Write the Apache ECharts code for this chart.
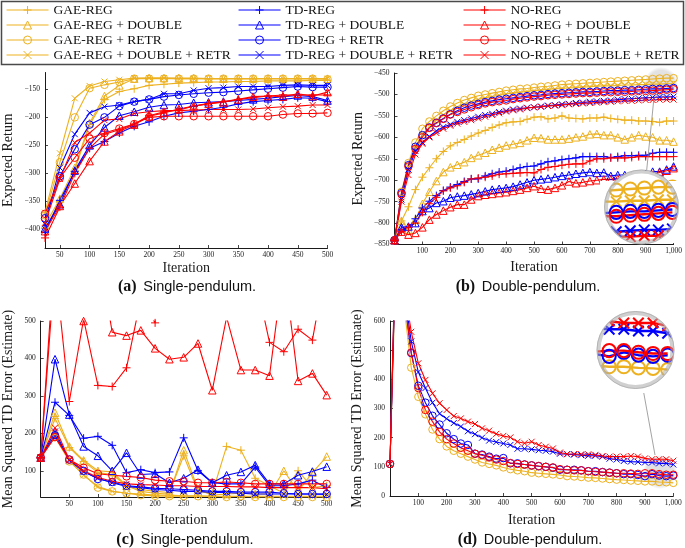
<!DOCTYPE html>
<html lang="en">
<head>
<meta charset="utf-8">
<title>Pendulum: expected return and TD error</title>
<script src="https://cdn.jsdelivr.net/npm/echarts@6/dist/echarts.min.js"></script>
<style>
  html, body { margin: 0; padding: 0; background: #fff; }
  #chart { width: 685px; height: 548px; }
</style>
</head>
<body>
<div id="chart"></div>
<script>
// ---- iterations ----
var itA = [25,50,75,100,125,150,175,200,225,250,275,300,325,350,375,400,425,450,475,500];
var itB = [0,25,50,75,100,125,150,175,200,225,250,275,300,325,350,375,400,425,450,475,500,
           525,550,575,600,625,650,675,700,725,750,775,800,825,850,875,900,925,950,975,1000];
var itC = [0,25,50,75,100,125,150,175,200,225,250,275,300,325,350,375,400,425,450,475,500];
var itD = itB;

// ---- (a) single pendulum, expected return ----
var gaeA    = [-398,-350,-295,-213,-168,-154,-149,-143,-141,-139,-138,-137,-137,-136,-136,-135,-135,-135,-134,-134];
var gaeDblA = [-392,-345,-290,-210,-162,-143,-131,-130,-130,-130,-130,-131,-131,-131,-131,-131,-131,-131,-131,-131];
var gaeRetA = [-375,-280,-200,-148,-142,-137,-131,-131,-131,-131,-131,-131,-131,-131,-131,-131,-131,-131,-131,-132];
var gaeDRA  = [-370,-264,-166,-144,-136,-133,-130,-130,-130,-131,-131,-131,-131,-131,-131,-131,-131,-131,-131,-131];
var tdA     = [-405,-348,-297,-255,-243,-228,-216,-208,-198,-192,-189,-186,-182,-176,-172,-170,-168,-165,-166,-172];
var tdDblA  = [-398,-355,-295,-250,-218,-197,-190,-182,-178,-177,-174,-173,-172,-170,-168,-166,-163,-161,-163,-170];
var tdRetA  = [-380,-305,-257,-213,-200,-180,-172,-168,-163,-160,-158,-156,-155,-153,-151,-149,-147,-145,-146,-146];
var tdDRA   = [-390,-290,-230,-192,-181,-178,-172,-168,-158,-158,-152,-148,-147,-145,-145,-145,-143,-142,-143,-143];
var noA     = [-415,-360,-300,-255,-230,-222,-212,-197,-190,-187,-180,-175,-172,-168,-165,-162,-160,-160,-160,-160];
var noDblA  = [-403,-358,-318,-278,-243,-225,-213,-198,-192,-185,-180,-176,-173,-168,-163,-162,-163,-158,-162,-155];
var noRetA  = [-372,-308,-272,-238,-228,-220,-212,-200,-198,-198,-198,-198,-198,-198,-198,-198,-195,-193,-193,-192];
var noDRA   = [-388,-310,-245,-228,-205,-203,-193,-190,-188,-188,-187,-186,-186,-186,-185,-183,-181,-180,-178,-178];

// ---- (b) double pendulum, expected return ----
var gaeB    = [-840,-795,-762,-722,-693,-671,-650,-633,-620,-612,-605,-597,-590,-584,-577,-571,-566,-564,-563,-558,-553,
               -552,-557,-555,-550,-555,-556,-557,-555,-555,-553,-556,-558,-560,-560,-562,-562,-563,-565,-562,-562];
var gaeDblB = [-840,-795,-815,-792,-755,-727,-702,-681,-670,-664,-658,-648,-642,-636,-629,-624,-619,-616,-613,-607,-601,
               -602,-605,-605,-605,-603,-600,-598,-593,-592,-595,-595,-600,-605,-600,-595,-598,-600,-607,-607,-610];
var gaeRetB = [-840,-727,-660,-612,-580,-563,-550,-538,-528,-520,-513,-508,-503,-500,-497,-494,-491,-489,-487,-486,-484,
               -482,-481,-479,-477,-476,-475,-474,-473,-472,-471,-470,-469,-468,-467,-466,-465,-464,-463,-462,-462];
var gaeDRB  = [-840,-740,-668,-625,-595,-575,-560,-548,-538,-530,-523,-517,-512,-508,-505,-502,-499,-497,-495,-493,-491,
               -490,-488,-487,-486,-485,-484,-483,-482,-481,-480,-480,-479,-478,-478,-477,-477,-476,-476,-475,-475];
var tdB     = [-840,-815,-810,-790,-765,-749,-736,-724,-716,-710,-703,-697,-697,-690,-685,-681,-679,-675,-671,-668,-667,
               -662,-657,-655,-652,-650,-648,-645,-645,-645,-645,-647,-645,-643,-643,-642,-642,-637,-635,-635,-635];
var tdDblB  = [-840,-810,-808,-800,-772,-765,-753,-749,-741,-738,-736,-733,-730,-726,-722,-720,-718,-715,-710,-705,-700,
               -698,-696,-693,-690,-688,-685,-683,-681,-683,-682,-690,-688,-688,-690,-688,-685,-680,-680,-675,-668];
var tdRetB  = [-840,-730,-665,-622,-595,-577,-566,-556,-546,-538,-531,-526,-522,-518,-515,-512,-510,-508,-506,-504,-502,
               -501,-499,-498,-497,-496,-495,-494,-494,-493,-492,-491,-491,-490,-490,-489,-488,-487,-487,-486,-485];
var tdDRB   = [-840,-745,-675,-632,-612,-598,-585,-576,-570,-564,-560,-556,-552,-548,-545,-541,-538,-535,-533,-531,-530,
               -528,-526,-525,-523,-522,-520,-519,-517,-516,-515,-514,-512,-511,-510,-509,-508,-507,-506,-506,-505];
var noB     = [-840,-820,-810,-800,-775,-755,-740,-725,-718,-713,-705,-697,-695,-693,-690,-686,-685,-684,-683,-682,-683,
               -675,-670,-668,-665,-663,-662,-662,-655,-650,-650,-648,-648,-648,-647,-645,-645,-645,-645,-645,-645];
var noDblB  = [-840,-820,-827,-823,-810,-792,-780,-771,-763,-757,-757,-745,-737,-734,-732,-730,-728,-725,-722,-718,-714,
               -720,-722,-718,-712,-703,-707,-705,-702,-700,-698,-698,-697,-695,-697,-695,-693,-687,-682,-678,-672];
var noRetB  = [-840,-733,-668,-627,-600,-578,-567,-557,-547,-541,-535,-530,-525,-521,-518,-516,-514,-511,-509,-507,-505,
               -504,-502,-501,-500,-499,-498,-497,-497,-496,-495,-495,-494,-494,-493,-492,-492,-491,-490,-489,-488];
var noDRB   = [-840,-750,-688,-640,-615,-600,-590,-580,-573,-568,-564,-560,-556,-552,-548,-544,-540,-537,-535,-532,-530,
               -529,-527,-526,-525,-523,-522,-521,-520,-519,-518,-517,-516,-515,-515,-514,-513,-513,-512,-512,-512];

// ---- (c) single pendulum, mean squared TD error ----
var gaeC    = [135,240,162,125,95,90,60,50,45,42,140,45,40,165,155,80,60,40,100,55,60];
var gaeDblC = [135,255,165,128,100,97,60,45,40,38,155,50,35,38,40,38,38,100,45,95,138];
var gaeRetC = [135,190,125,90,55,45,40,35,33,32,32,32,32,30,32,30,30,30,30,30,30];
var gaeDRC  = [135,200,128,88,58,45,40,38,35,35,33,33,32,32,32,32,32,32,32,32,32];
var tdC     = [135,283,248,187,192,168,95,103,95,97,188,100,68,65,65,110,60,60,65,75,55];
var tdDblC  = [135,398,250,165,140,100,148,90,92,68,80,103,68,88,97,115,65,65,88,98,111];
var tdRetC  = [135,195,130,100,78,70,60,57,53,52,50,48,45,45,43,43,43,40,38,38,38];
var tdDRC   = [135,205,128,97,80,68,58,55,50,48,45,45,42,42,40,38,38,38,38,38,37];
var noC     = [135,650,285,505,328,325,375,560,495,900,1200,1000,900,800,900,620,443,418,478,449,660];
var noDblC  = [135,700,900,500,700,470,461,475,427,398,403,440,315,510,369,369,354,650,340,360,302];
var noRetC  = [135,190,130,108,92,88,85,82,75,72,72,68,68,70,68,65,65,65,65,65,65];
var noDRC   = [135,215,130,100,82,72,65,63,62,60,60,58,58,58,57,57,55,55,55,55,52];

// ---- (d) double pendulum, mean squared TD error ----
var gaeRetD = [110,950,650,440,340,280,228,195,170,155,145,135,125,115,110,105,98,92,88,85,80,
               78,76,74,72,68,67,65,63,62,60,58,56,55,53,52,50,50,48,47,45];
var tdRetD  = [110,1000,680,490,378,320,275,245,215,195,180,175,145,142,135,128,130,112,112,108,105,
               102,100,97,90,90,90,88,85,85,82,80,78,75,75,72,68,75,70,68,70];
var noRetD  = [110,1020,690,492,370,295,255,220,195,180,165,155,145,140,132,125,120,113,110,108,105,
               103,100,98,92,90,88,88,85,83,82,80,78,78,77,76,78,78,75,73,73];
var tdDRD   = [110,1050,700,530,425,370,320,282,265,250,238,222,212,200,190,185,180,175,162,162,160,
               157,155,152,145,143,142,140,138,138,135,128,125,120,118,117,115,115,112,112,108];
var noDRD   = [110,1080,720,563,455,398,352,318,295,274,266,255,247,232,224,213,206,201,186,181,186,
               175,169,163,149,144,144,143,143,141,137,135,135,135,137,135,129,126,126,126,121];

// ---- tick labels ----
var ticksA_x = [50,100,150,200,250,300,350,400,450,500];
var ticksA_y = [-400,-350,-300,-250,-200,-150];
var ticksB_x = [100,200,300,400,500,600,700,800,900,1000];
var ticksB_y = [-850,-800,-750,-700,-650,-600,-550,-500,-450];
var ticksC_x = [50,100,150,200,250,300,350,400,450,500];
var ticksC_y = [100,200,300,400,500];
var ticksD_x = [100,200,300,400,500,600,700,800,900,1000];
var ticksD_y = [0,100,200,300,400,500,600];

var legendCols = [
  ['GAE-REG', 'GAE-REG + DOUBLE', 'GAE-REG + RETR', 'GAE-REG + DOUBLE + RETR'],
  ['TD-REG', 'TD-REG + DOUBLE', 'TD-REG + RETR', 'TD-REG + DOUBLE + RETR'],
  ['NO-REG', 'NO-REG + DOUBLE', 'NO-REG + RETR', 'NO-REG + DOUBLE + RETR']
];

var YEL = '#EDB120', BLU = '#0000FF', RED = '#FF0000';
var PLUS = 'path://M0,-10L0,10M-10,0L10,0';
var CROSS = 'path://M-10,-10L10,10M-10,10L10,-10';
var SERIF = 'Liberation Serif';
var INK = '#1a1a1a';

function styleOf(name) {
  var color = name.indexOf('GAE') === 0 ? YEL : (name.indexOf('TD') === 0 ? BLU : RED);
  var dbl = name.indexOf('DOUBLE') > 0, ret = name.indexOf('RETR') > 0;
  var sym = dbl && ret ? CROSS : (ret ? 'circle' : (dbl ? 'triangle' : PLUS));
  return { color: color, sym: sym };
}

function mk(name, xs, ys, axis, inset) {
  var st = styleOf(name);
  var size = st.sym === CROSS ? 6 : (st.sym === PLUS ? 8 : 7.5);
  if (inset) size = size * 1.75;
  return {
    type: 'line', name: name, xAxisIndex: axis, yAxisIndex: axis,
    data: xs.map(function (x, i) { return [x, ys[i]]; }),
    symbol: st.sym, symbolSize: size, showAllSymbol: true, clip: true,
    lineStyle: { color: st.color, width: inset ? 2.4 : 1.1 },
    itemStyle: { color: 'rgba(0,0,0,0)', borderColor: st.color, borderWidth: inset ? 2 : 1 },
    z: inset ? 8 : 2, silent: true, animation: false, emphasis: { disabled: true }
  };
}

function fmt(v) {
  var a = Math.abs(v);
  return (v < 0 ? '\u2212' : '') + (a >= 1000 ? '1,000' : String(a));
}

function axis(grid, min, max, ticks, name, gap, isX) {
  return {
    type: 'value', gridIndex: grid, min: min, max: max,
    axisLine: { show: true, onZero: false, lineStyle: { color: INK, width: 1 } },
    axisTick: { show: true, inside: true, length: 3, customValues: ticks, lineStyle: { color: INK, width: 0.8 } },
    axisLabel: { customValues: ticks, formatter: fmt, fontFamily: SERIF, fontSize: 7.5, color: INK, margin: isX ? 3 : 5 },
    splitLine: { show: false },
    name: name, nameLocation: 'middle', nameGap: gap,
    nameTextStyle: { fontFamily: SERIF, fontSize: 14, color: INK }
  };
}

function hidden(grid, min, max) {
  return { type: 'value', gridIndex: grid, min: min, max: max, show: false, splitLine: { show: false } };
}

var series = [];
[['GAE-REG', gaeA], ['GAE-REG + DOUBLE', gaeDblA], ['GAE-REG + RETR', gaeRetA], ['GAE-REG + DOUBLE + RETR', gaeDRA],
 ['TD-REG', tdA], ['TD-REG + DOUBLE', tdDblA], ['TD-REG + RETR', tdRetA], ['TD-REG + DOUBLE + RETR', tdDRA],
 ['NO-REG', noA], ['NO-REG + DOUBLE', noDblA], ['NO-REG + RETR', noRetA], ['NO-REG + DOUBLE + RETR', noDRA]]
  .forEach(function (s) { series.push(mk(s[0], itA, s[1], 0)); });
var panelB = [['GAE-REG', gaeB], ['GAE-REG + DOUBLE', gaeDblB], ['GAE-REG + RETR', gaeRetB], ['GAE-REG + DOUBLE + RETR', gaeDRB],
 ['TD-REG', tdB], ['TD-REG + DOUBLE', tdDblB], ['TD-REG + RETR', tdRetB], ['TD-REG + DOUBLE + RETR', tdDRB],
 ['NO-REG', noB], ['NO-REG + DOUBLE', noDblB], ['NO-REG + RETR', noRetB], ['NO-REG + DOUBLE + RETR', noDRB]];
panelB.forEach(function (s) { series.push(mk(s[0], itB, s[1], 1)); });
[['GAE-REG', gaeC], ['GAE-REG + DOUBLE', gaeDblC], ['GAE-REG + RETR', gaeRetC], ['GAE-REG + DOUBLE + RETR', gaeDRC],
 ['TD-REG', tdC], ['TD-REG + DOUBLE', tdDblC], ['TD-REG + RETR', tdRetC], ['TD-REG + DOUBLE + RETR', tdDRC],
 ['NO-REG', noC], ['NO-REG + DOUBLE', noDblC], ['NO-REG + RETR', noRetC], ['NO-REG + DOUBLE + RETR', noDRC]]
  .forEach(function (s) { series.push(mk(s[0], itC, s[1], 2)); });
var panelD = [['GAE-REG + RETR', gaeRetD], ['TD-REG + RETR', tdRetD], ['TD-REG + DOUBLE + RETR', tdDRD],
 ['NO-REG + RETR', noRetD], ['NO-REG + DOUBLE + RETR', noDRD]];
panelD.forEach(function (s) { series.push(mk(s[0], itD, s[1], 3)); });

// magnified views
panelB.filter(function (s) { return s[0].indexOf('RETR') > 0; })
  .forEach(function (s) { series.push(mk(s[0], itB, s[1], 4, true)); });
panelD.forEach(function (s) { series.push(mk(s[0], itD, s[1], 5, true)); });

// lens circles and the rectangles that their zoomed grids occupy
var lensB = { cx: 641.5, cy: 207, r: 36.5 }, lensD = { cx: 635.5, cy: 350, r: 38 };
var gridLensB = { left: 605, top: 183, width: 73, height: 59 };
var gridLensD = { left: 597.5, top: 312, width: 76, height: 76 };

// white cover for the part of a zoom grid that lies outside its circle
function lensMask(c, R) {
  var top = R.t > c.cy - c.r ? Math.asin((c.cy - R.t) / c.r) : Math.PI / 2;
  var bot = R.b < c.cy + c.r ? Math.asin((R.b - c.cy) / c.r) : Math.PI / 2;
  var a0 = Math.PI - bot, a1 = Math.PI + top;
  var half = [[R.l, R.b]];
  if (bot === Math.PI / 2) half.push([c.cx, R.b]);
  for (var j = 0; j <= 24; j++) {
    var a = a0 + (a1 - a0) * j / 24;
    half.push([c.cx + c.r * Math.cos(a), c.cy + c.r * Math.sin(a)]);
  }
  if (top === Math.PI / 2) half.push([c.cx, R.t]);
  half.push([R.l, R.t]);
  var other = half.map(function (p) { return [2 * c.cx - p[0], p[1]]; });
  return [half, other].map(function (pts) {
    return { type: 'polygon', z: 9, silent: true, shape: { points: pts }, style: { fill: '#fff', stroke: null } };
  });
}

function lensParts(c, g, pad, src, link) {
  var soft = new echarts.graphic.RadialGradient(0.5, 0.5, 0.5, [
    { offset: 0, color: 'rgba(185,185,185,0.45)' },
    { offset: 0.8, color: 'rgba(185,185,185,0.4)' },
    { offset: 1, color: 'rgba(185,185,185,0)' }]);
  var R = { l: g.left - pad[0], t: g.top - pad[1], r: g.left + g.width + pad[0], b: g.top + g.height + pad[2] };
  return [
    { type: 'circle', z: 1, silent: true, shape: { cx: src[0], cy: src[1], r: 17 }, style: { fill: soft } },
    { type: 'line', z: 4, silent: true, shape: { x1: link[0], y1: link[1], x2: link[2], y2: link[3] },
      style: { stroke: '#8c8c8c', lineWidth: 0.8 } },
    { type: 'circle', z: 5, silent: true, shape: { cx: c.cx, cy: c.cy, r: c.r }, style: { fill: '#fff' } }
  ].concat(lensMask(c, R)).concat([
    { type: 'circle', z: 10, silent: true, shape: { cx: c.cx, cy: c.cy, r: c.r - 1 },
      style: { fill: 'none', stroke: 'rgba(170,170,170,0.55)', lineWidth: 4 } },
    { type: 'circle', z: 10, silent: true, shape: { cx: c.cx, cy: c.cy, r: c.r + 0.5 },
      style: { fill: 'none', stroke: '#a8a8a8', lineWidth: 0.7 } }
  ]);
}

function caption(x, y, tag, text) {
  return {
    type: 'text', z: 3, silent: true,
    style: {
      x: x, y: y, text: '{b|' + tag + '}  {n|' + text + '}',
      textAlign: 'center', textVerticalAlign: 'middle',
      rich: {
        b: { fontFamily: SERIF, fontWeight: 'bold', fontSize: 16, fill: '#111' },
        n: { fontFamily: 'Liberation Sans', fontSize: 14.5, fill: '#111' }
      }
    }
  };
}

var graphics = [
  { type: 'rect', z: 0, silent: true, shape: { x: 1.5, y: 1.5, width: 682, height: 63 },
    style: { fill: 'none', stroke: '#4a4a4a', lineWidth: 1.5 } },
  caption(187, 287, '(a)', 'Single-pendulum.'),
  caption(528, 287, '(b)', 'Double-pendulum.'),
  caption(185, 540, '(c)', 'Single-pendulum.'),
  caption(530, 540, '(d)', 'Double-pendulum.')
].concat(lensParts(lensB, gridLensB, [5, 2, 1], [661, 84], [654, 97.5, 646.7, 170]))
 .concat(lensParts(lensD, gridLensD, [5, 5, 5], [660, 472], [642.7, 387, 655, 455]));

var chart = echarts.init(document.getElementById('chart'), null, { renderer: 'canvas' });
chart.setOption({
  backgroundColor: '#fff',
  animation: false,
  legend: legendCols.map(function (col, c) {
    return {
      orient: 'vertical', left: [6, 238, 463][c], top: 3, padding: 0, itemGap: 1,
      itemWidth: 42, itemHeight: 10, selectedMode: false, data: col,
      itemStyle: { borderWidth: 1 }, lineStyle: { width: 1.1 },
      textStyle: { fontFamily: SERIF, fontSize: 13.5, lineHeight: 14, color: '#111' }
    };
  }),
  grid: [
    { left: 45, top: 72.5, width: 282.5, height: 175.5 },
    { left: 394.5, top: 73, width: 279.8, height: 171.5 },
    { left: 40.7, top: 321, width: 286, height: 176 },
    { left: 390, top: 321, width: 283.3, height: 175 },
    gridLensB,
    gridLensD
  ],
  xAxis: [
    axis(0, 25, 500, ticksA_x, 'Iteration', 13, true),
    axis(1, 0, 1000, ticksB_x, 'Iteration', 16, true),
    axis(2, 0, 500, ticksC_x, 'Iteration', 16, true),
    axis(3, 0, 1000, ticksD_x, 'Iteration', 17, true),
    hidden(4, 880, 1010),
    hidden(5, 880, 1010)
  ],
  yAxis: [
    axis(0, -433, -120, ticksA_y, 'Expected Return', 30),
    axis(1, -850, -450, ticksB_y, 'Expected Return', 29),
    axis(2, 30, 500, ticksC_y, 'Mean Squared TD Error (Estimate)', 25),
    axis(3, 0, 600, ticksD_y, 'Mean Squared TD Error (Estimate)', 26),
    hidden(4, -518.5, -457.8),
    hidden(5, 13, 145)
  ],
  graphic: { elements: graphics },
  series: series
});
</script>
</body>
</html>
